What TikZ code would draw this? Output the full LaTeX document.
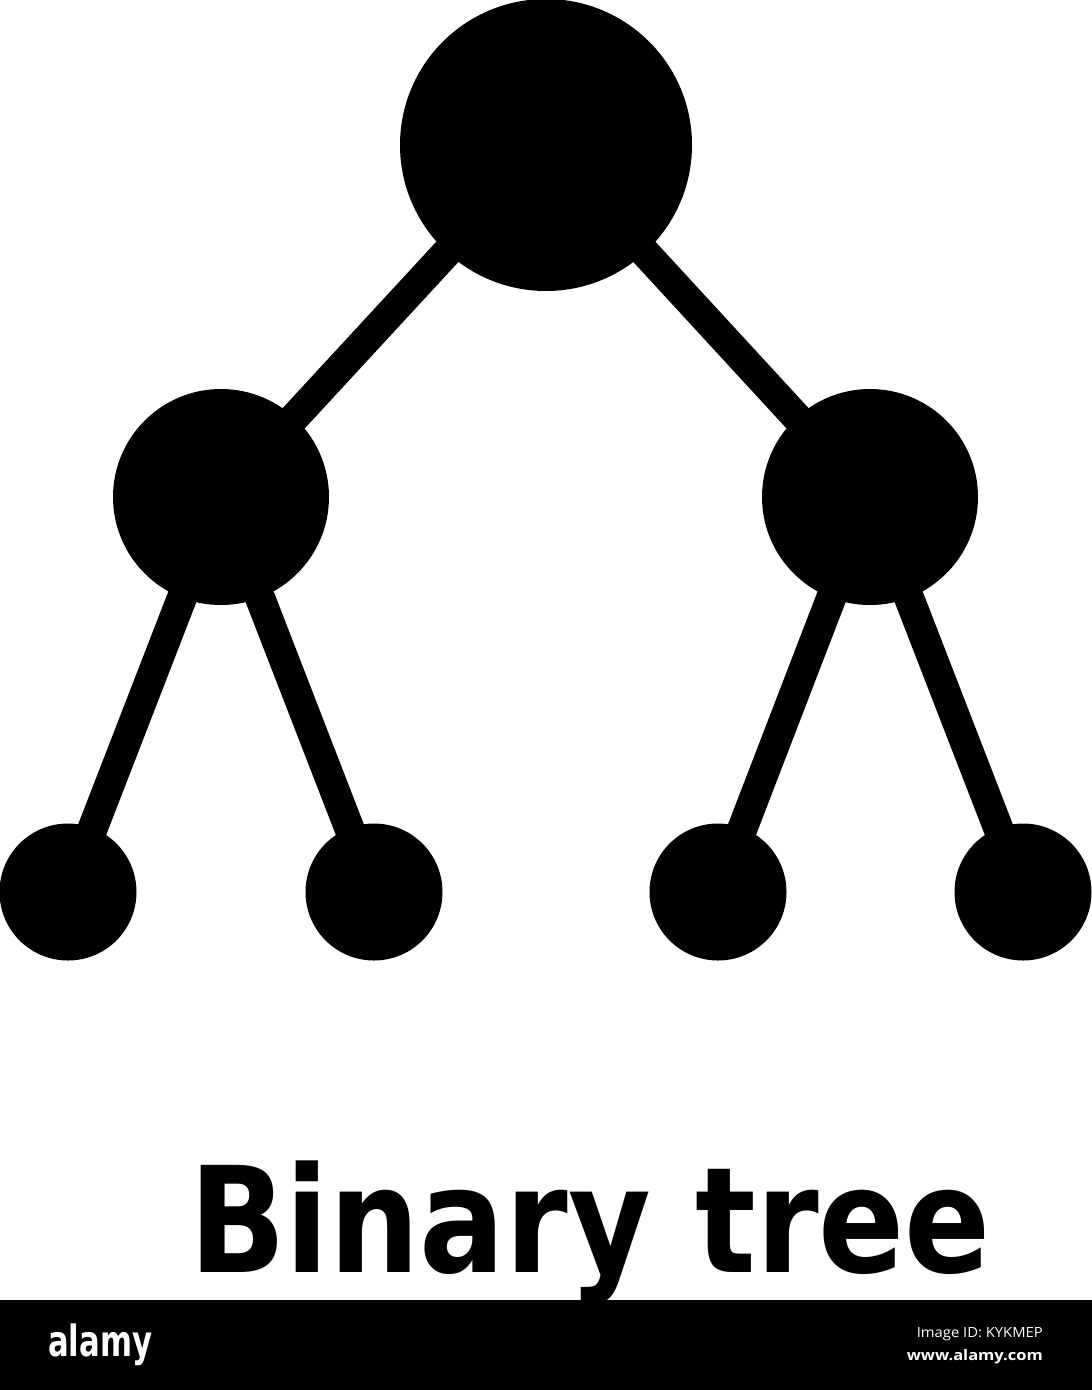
\documentclass[tikz,border=0pt]{standalone}
\usepackage{fontspec}
\usepackage{graphicx}
\newfontfamily\titlefont{DejaVu Sans}
\newfontfamily\smallfont{Open Sans}
\begin{document}
\begin{tikzpicture}[x=1pt,y=-1pt,
  vertex/.style={circle,fill=black,inner sep=0pt,minimum size=#1},
  edge/.style={line width=30pt,black}]
\useasboundingbox (0,0) rectangle (1092,1390);
% nodes
\node[vertex=292pt] (root) at (546,145) {};
\node[vertex=216pt] (l) at (221,497) {};
\node[vertex=216pt] (r) at (870,497) {};
\node[vertex=137pt] (ll) at (68,892) {};
\node[vertex=137pt] (lr) at (374,892) {};
\node[vertex=137pt] (rl) at (718,892) {};
\node[vertex=137pt] (rr) at (1023,892) {};
% edges
\draw[edge] (root.center) -- (l.center);
\draw[edge] (root.center) -- (r.center);
\draw[edge] (l.center) -- (ll.center);
\draw[edge] (l.center) -- (lr.center);
\draw[edge] (r.center) -- (rl.center);
\draw[edge] (r.center) -- (rr.center);
% bottom bar
\fill[black] (0,1300) rectangle (1092,1390);
% title
\node[anchor=base,inner sep=0pt] (title) at (590,1272)
  {\resizebox{802pt}{\height}{\fontsize{147}{147}\selectfont\titlefont\bfseries Binary tree}};
% bar texts
\node[anchor=base west,inner sep=0pt,text=white] (logo) at (48,1356)
  {\resizebox{104pt}{\height}{\fontsize{43}{43}\selectfont\titlefont\bfseries alamy}};
\node[anchor=base east,inner sep=0pt,text=white] (imgid) at (1043,1337)
  {\resizebox{126pt}{\height}{\fontsize{14}{14}\selectfont\smallfont Image ID: KYKMEP}};
\node[anchor=base east,inner sep=0pt,text=white] (url) at (1043,1360)
  {\resizebox{136pt}{\height}{\fontsize{14.5}{14.5}\selectfont\smallfont\bfseries www.alamy.com}};
\end{tikzpicture}
\end{document}
